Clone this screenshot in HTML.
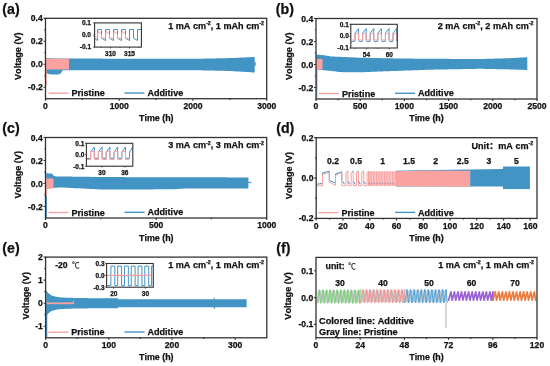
<!DOCTYPE html>
<html><head><meta charset="utf-8"><style>
html,body{margin:0;padding:0;background:#fff;}
svg{display:block;}
text{font-family:"Liberation Sans",Arial,"Noto Sans CJK SC",sans-serif;fill:#111111;stroke:#111111;stroke-width:0.25px;font-kerning:none;}
</style></head><body>
<svg width="550" height="366" viewBox="0 0 550 366">
<rect width="550" height="366" fill="#fff"/>
<text x="2.30" y="13.90" font-size="14.2" text-anchor="start" font-weight="bold" >(a)</text>
<path d="M45.80 57.80 L47.30 58.14 L48.80 58.31 L50.30 58.33 L51.80 58.35 L53.30 58.37 L54.80 58.39 L56.30 58.41 L57.80 58.43 L59.30 58.45 L60.80 58.47 L62.30 58.49 L63.80 58.52 L65.30 58.54 L66.80 58.56 L68.30 58.58 L69.80 58.60 L71.30 58.60 L72.80 58.60 L74.30 58.60 L75.80 58.60 L77.30 58.61 L78.80 58.61 L80.30 58.61 L81.80 58.61 L83.30 58.61 L84.80 58.61 L86.30 58.61 L87.80 58.61 L89.30 58.61 L90.80 58.62 L92.30 58.62 L93.80 58.62 L95.30 58.62 L96.80 58.62 L98.30 58.62 L99.80 58.62 L101.30 58.62 L102.80 58.63 L104.30 58.63 L105.80 58.63 L107.30 58.63 L108.80 58.63 L110.30 58.63 L111.80 58.63 L113.30 58.63 L114.80 58.63 L116.30 58.64 L117.80 58.64 L119.30 58.64 L120.80 58.64 L122.30 58.64 L123.80 58.64 L125.30 58.64 L126.80 58.64 L128.30 58.64 L129.80 58.65 L131.30 58.65 L132.80 58.65 L134.30 58.65 L135.80 58.65 L137.30 58.65 L138.80 58.65 L140.30 58.65 L141.80 58.66 L143.30 58.66 L144.80 58.66 L146.30 58.66 L147.80 58.66 L149.30 58.66 L150.80 58.66 L152.30 58.66 L153.80 58.66 L155.30 58.67 L156.80 58.67 L158.30 58.67 L159.80 58.67 L161.30 58.67 L162.80 58.67 L164.30 58.67 L165.80 58.67 L167.30 58.67 L168.80 58.68 L170.30 58.68 L171.80 58.68 L173.30 58.68 L174.80 58.68 L176.30 58.68 L177.80 58.68 L179.30 58.68 L180.80 58.69 L182.30 58.69 L183.80 58.69 L185.30 58.69 L186.80 58.69 L188.30 58.69 L189.80 58.69 L191.30 58.69 L192.80 58.69 L194.30 58.70 L195.80 58.70 L197.30 58.70 L198.80 58.70 L200.30 58.69 L201.80 58.66 L203.30 58.63 L204.80 58.60 L206.30 58.57 L207.80 58.54 L209.30 58.51 L210.80 58.48 L212.30 58.45 L213.80 58.42 L215.30 58.39 L216.80 58.36 L218.30 58.33 L219.80 58.30 L221.30 58.27 L222.80 58.24 L224.30 58.21 L225.80 58.18 L227.30 58.15 L228.80 58.12 L230.30 58.09 L231.80 58.02 L233.30 57.95 L234.80 57.89 L236.30 57.82 L237.80 57.75 L239.30 57.69 L240.80 57.62 L242.30 57.55 L243.80 57.49 L245.30 57.42 L246.80 57.35 L248.30 57.29 L249.80 57.22 L251.30 57.15 L252.80 57.08 L254.30 57.02 L254.70 57.00 L254.70 72.50 L254.30 72.48 L252.80 72.38 L251.30 72.29 L249.80 72.20 L248.30 72.11 L246.80 72.02 L245.30 71.93 L243.80 71.84 L242.30 71.75 L240.80 71.66 L239.30 71.56 L237.80 71.47 L236.30 71.38 L234.80 71.29 L233.30 71.20 L231.80 71.11 L230.30 71.02 L228.80 70.97 L227.30 70.94 L225.80 70.90 L224.30 70.87 L222.80 70.83 L221.30 70.80 L219.80 70.76 L218.30 70.73 L216.80 70.69 L215.30 70.66 L213.80 70.62 L212.30 70.59 L210.80 70.55 L209.30 70.52 L207.80 70.48 L206.30 70.45 L204.80 70.41 L203.30 70.38 L201.80 70.34 L200.30 70.31 L198.80 70.30 L197.30 70.30 L195.80 70.30 L194.30 70.30 L192.80 70.30 L191.30 70.30 L189.80 70.30 L188.30 70.30 L186.80 70.30 L185.30 70.30 L183.80 70.30 L182.30 70.30 L180.80 70.30 L179.30 70.30 L177.80 70.30 L176.30 70.30 L174.80 70.30 L173.30 70.30 L171.80 70.30 L170.30 70.30 L168.80 70.30 L167.30 70.30 L165.80 70.30 L164.30 70.30 L162.80 70.30 L161.30 70.30 L159.80 70.30 L158.30 70.30 L156.80 70.30 L155.30 70.30 L153.80 70.30 L152.30 70.30 L150.80 70.30 L149.30 70.30 L147.80 70.30 L146.30 70.30 L144.80 70.30 L143.30 70.30 L141.80 70.30 L140.30 70.30 L138.80 70.30 L137.30 70.30 L135.80 70.30 L134.30 70.30 L132.80 70.30 L131.30 70.30 L129.80 70.30 L128.30 70.30 L126.80 70.30 L125.30 70.30 L123.80 70.30 L122.30 70.30 L120.80 70.30 L119.30 70.30 L117.80 70.30 L116.30 70.30 L114.80 70.30 L113.30 70.30 L111.80 70.30 L110.30 70.30 L108.80 70.30 L107.30 70.30 L105.80 70.30 L104.30 70.30 L102.80 70.30 L101.30 70.30 L99.80 70.30 L98.30 70.30 L96.80 70.30 L95.30 70.30 L93.80 70.30 L92.30 70.30 L90.80 70.30 L89.30 70.30 L87.80 70.30 L86.30 70.30 L84.80 70.30 L83.30 70.30 L81.80 70.30 L80.30 70.30 L78.80 70.30 L77.30 70.30 L75.80 70.30 L74.30 70.30 L72.80 70.30 L71.30 70.30 L69.80 70.30 L68.30 70.30 L66.80 70.30 L65.30 70.30 L63.80 70.30 L62.30 70.30 L60.80 70.30 L59.30 70.30 L57.80 70.30 L56.30 70.30 L54.80 70.30 L53.30 70.30 L51.80 70.30 L50.30 70.30 L48.80 70.30 L47.30 70.30 L45.80 70.30Z" fill="#4294c4" />
<path d="M46.00 68.00 L46.20 73.00 L48.00 74.00 L52.00 74.50 L58.00 74.50 L60.00 74.00 L61.30 72.50 L62.50 70.40 L62.50 68.00Z" fill="#4294c4" />
<rect x="46" y="58.6" width="23" height="10.9" fill="#faa2a0"/>
<path d="M46.3 58 V86" stroke="#faa2a0" stroke-width="0.9"/>
<path d="M254.5 62 h1.2 v4 h-1.2z" fill="#4294c4"/>
<rect x="45.50" y="18.30" width="221.20" height="80.40" fill="none" stroke="#333333" stroke-width="1.3"/>
<path d="M45.50 98.70v2.0M119.23 98.70v2.0M192.97 98.70v2.0M266.70 98.70v2.0M82.37 98.70v1.2M156.10 98.70v1.2M229.83 98.70v1.2M45.50 18.30h-2.0M45.50 41.27h-2.0M45.50 64.24h-2.0M45.50 87.21h-2.0M45.50 29.79h-1.2M45.50 52.76h-1.2M45.50 75.73h-1.2" stroke="#333333" stroke-width="1.1700000000000002" fill="none"/>
<text x="45.50" y="108.80" font-size="8.6" text-anchor="middle" font-weight="bold" >0</text>
<text x="119.23" y="108.80" font-size="8.6" text-anchor="middle" font-weight="bold" >1000</text>
<text x="192.97" y="108.80" font-size="8.6" text-anchor="middle" font-weight="bold" >2000</text>
<text x="266.70" y="108.80" font-size="8.6" text-anchor="middle" font-weight="bold" >3000</text>
<text x="42.80" y="21.30" font-size="8.6" text-anchor="end" font-weight="bold" >0.4</text>
<text x="42.80" y="44.27" font-size="8.6" text-anchor="end" font-weight="bold" >0.2</text>
<text x="42.80" y="67.24" font-size="8.6" text-anchor="end" font-weight="bold" >0.0</text>
<text x="42.80" y="90.21" font-size="8.6" text-anchor="end" font-weight="bold" >-0.2</text>
<text transform="translate(21.10,56.20) rotate(-90)" font-size="9.1" text-anchor="middle" font-weight="bold">Voltage (V)</text>
<text x="156.30" y="121.20" font-size="8.9" text-anchor="middle" font-weight="bold" >Time (h)</text>
<text x="264.00" y="29.00" font-size="9.1" text-anchor="end" font-weight="bold" >1 mA cm<tspan font-size="5.3" dy="-3.7">-2</tspan><tspan dy="3.7">, 1 mAh cm</tspan><tspan font-size="5.3" dy="-3.7">-2</tspan><tspan dy="3.7"></tspan></text>
<path d="M48.50 93.20h20" stroke="#faa2a0" stroke-width="1.4"/>
<text x="71.50" y="96.30" font-size="9.05" text-anchor="start" font-weight="bold" >Pristine</text>
<path d="M124.50 93.00h20" stroke="#4294c4" stroke-width="1.4"/>
<text x="147.50" y="96.10" font-size="9.05" text-anchor="start" font-weight="bold" >Additive</text>
<path d="M94.90 38.60 L97.49 40.50 L97.50 40.50 L97.50 29.50 L101.50 29.50 L101.50 38.20 L105.50 40.50 L105.50 40.50 L105.50 29.50 L109.50 29.50 L109.50 38.20 L113.50 40.50 L113.50 40.50 L113.50 29.50 L117.50 29.50 L117.50 38.20 L121.50 40.50 L121.50 40.50 L121.50 29.50 L125.50 29.50 L125.50 38.20 L129.50 40.50 L129.50 40.50 L129.50 29.50 L133.50 29.50 L133.50 38.20 L137.50 40.50 L137.50 40.50 L137.50 29.50 L141.20 29.50" fill="none" stroke="#4294c4" stroke-width="1.0" stroke-linejoin="miter" />
<path d="M94.90 36.00 L97.49 38.00 L97.50 38.00 L98.10 31.00 L101.50 34.50 L101.50 38.00 L105.50 38.00 L105.50 38.00 L106.10 31.00 L109.50 34.50 L109.50 38.00 L113.50 38.00 L113.50 38.00 L114.10 31.00 L117.50 34.50 L117.50 38.00 L121.50 38.00 L121.50 38.00 L122.10 31.00 L125.50 34.50 L125.50 38.00 L128.50 38.00" fill="none" stroke="#faa2a0" stroke-width="1.0" stroke-linejoin="miter" />
<rect x="94.60" y="22.90" width="46.80" height="24.20" fill="none" stroke="#333333" stroke-width="1.1"/>
<path d="M110.54 47.10v1.3M129.52 47.10v1.3M101.05 47.10v0.78M120.03 47.10v0.78M139.01 47.10v0.78M94.60 22.90h-1.3M94.60 35.00h-1.3M94.60 47.10h-1.3" stroke="#333333" stroke-width="0.9900000000000001" fill="none"/>
<text x="110.54" y="55.50" font-size="6.5" text-anchor="middle" font-weight="bold" >310</text>
<text x="129.52" y="55.50" font-size="6.5" text-anchor="middle" font-weight="bold" >315</text>
<text x="91.00" y="24.80" font-size="6.5" text-anchor="end" font-weight="bold" >0.1</text>
<text x="91.00" y="36.90" font-size="6.5" text-anchor="end" font-weight="bold" >0.0</text>
<text x="91.00" y="49.00" font-size="6.5" text-anchor="end" font-weight="bold" >-0.1</text>
<text x="275.80" y="13.90" font-size="14.2" text-anchor="start" font-weight="bold" >(b)</text>
<path d="M316.30 54.50 L317.80 54.63 L319.30 54.76 L320.80 54.89 L322.30 55.05 L323.80 55.32 L325.30 55.58 L326.80 55.84 L328.30 56.10 L329.80 56.37 L331.30 56.46 L332.80 56.52 L334.30 56.59 L335.80 56.65 L337.30 56.72 L338.80 56.78 L340.30 56.85 L341.80 56.91 L343.30 56.98 L344.80 57.04 L346.30 57.11 L347.80 57.17 L349.30 57.24 L350.80 57.30 L352.30 57.37 L353.80 57.43 L355.30 57.50 L356.80 57.56 L358.30 57.63 L359.80 57.69 L361.30 57.73 L362.80 57.76 L364.30 57.79 L365.80 57.82 L367.30 57.85 L368.80 57.88 L370.30 57.91 L371.80 57.94 L373.30 57.97 L374.80 58.00 L376.30 58.03 L377.80 58.06 L379.30 58.09 L380.80 58.12 L382.30 58.15 L383.80 58.18 L385.30 58.21 L386.80 58.24 L388.30 58.27 L389.80 58.30 L391.30 58.33 L392.80 58.36 L394.30 58.39 L395.80 58.42 L397.30 58.45 L398.80 58.48 L400.30 58.50 L401.80 58.52 L403.30 58.53 L404.80 58.55 L406.30 58.56 L407.80 58.58 L409.30 58.59 L410.80 58.61 L412.30 58.62 L413.80 58.64 L415.30 58.65 L416.80 58.67 L418.30 58.68 L419.80 58.70 L421.30 58.71 L422.80 58.73 L424.30 58.74 L425.80 58.76 L427.30 58.77 L428.80 58.79 L430.30 58.80 L431.80 58.81 L433.30 58.81 L434.80 58.82 L436.30 58.83 L437.80 58.83 L439.30 58.84 L440.80 58.84 L442.30 58.85 L443.80 58.86 L445.30 58.86 L446.80 58.87 L448.30 58.87 L449.80 58.88 L451.30 58.89 L452.80 58.89 L454.30 58.90 L455.80 58.90 L457.30 58.91 L458.80 58.92 L460.30 58.92 L461.80 58.93 L463.30 58.93 L464.80 58.94 L466.30 58.95 L467.80 58.95 L469.30 58.96 L470.80 58.96 L472.30 58.97 L473.80 58.98 L475.30 58.98 L476.80 58.99 L478.30 58.99 L479.80 59.00 L481.30 58.97 L482.80 58.93 L484.30 58.89 L485.80 58.85 L487.30 58.81 L488.80 58.77 L490.30 58.73 L491.80 58.69 L493.30 58.65 L494.80 58.61 L496.30 58.57 L497.80 58.53 L499.30 58.49 L500.80 58.45 L502.30 58.41 L503.80 58.37 L505.30 58.33 L506.80 58.29 L508.30 58.25 L509.80 58.21 L511.30 58.12 L512.80 58.04 L514.30 57.95 L515.80 57.86 L517.30 57.78 L518.80 57.69 L520.30 57.60 L521.80 57.52 L523.30 57.43 L524.80 57.34 L526.30 57.26 L527.30 57.20 L527.30 70.00 L526.30 69.97 L524.80 69.91 L523.30 69.86 L521.80 69.81 L520.30 69.76 L518.80 69.71 L517.30 69.65 L515.80 69.60 L514.30 69.55 L512.80 69.50 L511.30 69.45 L509.80 69.40 L508.30 69.37 L506.80 69.34 L505.30 69.31 L503.80 69.28 L502.30 69.25 L500.80 69.22 L499.30 69.19 L497.80 69.16 L496.30 69.13 L494.80 69.10 L493.30 69.07 L491.80 69.04 L490.30 69.01 L488.80 68.98 L487.30 68.95 L485.80 68.92 L484.30 68.89 L482.80 68.86 L481.30 68.83 L479.80 68.80 L478.30 68.83 L476.80 68.86 L475.30 68.88 L473.80 68.91 L472.30 68.94 L470.80 68.97 L469.30 68.99 L467.80 69.02 L466.30 69.05 L464.80 69.07 L463.30 69.10 L461.80 69.13 L460.30 69.15 L458.80 69.18 L457.30 69.21 L455.80 69.24 L454.30 69.26 L452.80 69.29 L451.30 69.32 L449.80 69.34 L448.30 69.37 L446.80 69.40 L445.30 69.42 L443.80 69.45 L442.30 69.48 L440.80 69.51 L439.30 69.53 L437.80 69.56 L436.30 69.59 L434.80 69.61 L433.30 69.64 L431.80 69.67 L430.30 69.69 L428.80 69.74 L427.30 69.80 L425.80 69.85 L424.30 69.91 L422.80 69.96 L421.30 70.02 L419.80 70.07 L418.30 70.13 L416.80 70.18 L415.30 70.24 L413.80 70.29 L412.30 70.35 L410.80 70.40 L409.30 70.46 L407.80 70.51 L406.30 70.57 L404.80 70.62 L403.30 70.68 L401.80 70.73 L400.30 70.79 L398.80 70.84 L397.30 70.89 L395.80 70.95 L394.30 71.00 L392.80 71.05 L391.30 71.10 L389.80 71.16 L388.30 71.21 L386.80 71.26 L385.30 71.31 L383.80 71.37 L382.30 71.42 L380.80 71.47 L379.30 71.53 L377.80 71.59 L376.30 71.65 L374.80 71.71 L373.30 71.77 L371.80 71.83 L370.30 71.89 L368.80 71.95 L367.30 72.01 L365.80 72.07 L364.30 72.13 L362.80 72.19 L361.30 72.25 L359.80 72.30 L358.30 72.28 L356.80 72.27 L355.30 72.25 L353.80 72.24 L352.30 72.22 L350.80 72.21 L349.30 72.19 L347.80 72.18 L346.30 72.16 L344.80 72.15 L343.30 72.13 L341.80 72.12 L340.30 72.10 L338.80 71.94 L337.30 71.75 L335.80 71.55 L334.30 71.36 L332.80 71.16 L331.30 70.97 L329.80 70.78 L328.30 70.63 L326.80 70.48 L325.30 70.33 L323.80 70.18 L322.30 70.03 L320.80 69.89 L319.30 69.76 L317.80 69.63 L316.30 69.50Z" fill="#4294c4" />
<rect x="316.5" y="59" width="6" height="10.5" fill="#faa2a0"/>
<path d="M316.7 60 V90" stroke="#faa2a0" stroke-width="0.9"/>
<path d="M316.8 70 V99" stroke="#4294c4" stroke-width="0.9"/>
<rect x="316.00" y="18.50" width="221.00" height="80.50" fill="none" stroke="#333333" stroke-width="1.3"/>
<path d="M316.00 99.00v2.0M360.20 99.00v2.0M404.40 99.00v2.0M448.60 99.00v2.0M492.80 99.00v2.0M537.00 99.00v2.0M338.10 99.00v1.2M382.30 99.00v1.2M426.50 99.00v1.2M470.70 99.00v1.2M514.90 99.00v1.2M316.00 18.50h-2.0M316.00 41.50h-2.0M316.00 64.50h-2.0M316.00 87.50h-2.0M316.00 30.00h-1.2M316.00 53.00h-1.2M316.00 76.00h-1.2" stroke="#333333" stroke-width="1.1700000000000002" fill="none"/>
<text x="316.00" y="109.10" font-size="8.6" text-anchor="middle" font-weight="bold" >0</text>
<text x="360.20" y="109.10" font-size="8.6" text-anchor="middle" font-weight="bold" >500</text>
<text x="404.40" y="109.10" font-size="8.6" text-anchor="middle" font-weight="bold" >1000</text>
<text x="448.60" y="109.10" font-size="8.6" text-anchor="middle" font-weight="bold" >1500</text>
<text x="492.80" y="109.10" font-size="8.6" text-anchor="middle" font-weight="bold" >2000</text>
<text x="537.00" y="109.10" font-size="8.6" text-anchor="middle" font-weight="bold" >2500</text>
<text x="313.30" y="21.50" font-size="8.6" text-anchor="end" font-weight="bold" >0.4</text>
<text x="313.30" y="44.50" font-size="8.6" text-anchor="end" font-weight="bold" >0.2</text>
<text x="313.30" y="67.50" font-size="8.6" text-anchor="end" font-weight="bold" >0.0</text>
<text x="313.30" y="90.50" font-size="8.6" text-anchor="end" font-weight="bold" >-0.2</text>
<text transform="translate(291.60,56.20) rotate(-90)" font-size="9.1" text-anchor="middle" font-weight="bold">Voltage (V)</text>
<text x="426.50" y="121.20" font-size="8.9" text-anchor="middle" font-weight="bold" >Time (h)</text>
<text x="533.50" y="29.00" font-size="9.1" text-anchor="end" font-weight="bold" >2 mA cm<tspan font-size="5.3" dy="-3.7">-2</tspan><tspan dy="3.7">, 2 mAh cm</tspan><tspan font-size="5.3" dy="-3.7">-2</tspan><tspan dy="3.7"></tspan></text>
<path d="M319.00 93.50h20" stroke="#faa2a0" stroke-width="1.4"/>
<text x="342.00" y="96.60" font-size="9.05" text-anchor="start" font-weight="bold" >Pristine</text>
<path d="M395.00 93.30h20" stroke="#4294c4" stroke-width="1.4"/>
<text x="418.00" y="96.40" font-size="9.05" text-anchor="start" font-weight="bold" >Additive</text>
<path d="M351.10 42.50 L352.50 41.50 L355.00 41.20 L355.00 33.20 L358.60 28.50 L358.60 40.50 L359.60 41.80 L362.60 41.20 L362.60 41.20 L362.60 33.20 L366.20 28.50 L366.20 40.50 L367.20 41.80 L370.20 41.20 L370.20 41.20 L370.20 33.20 L373.80 28.50 L373.80 40.50 L374.80 41.80 L377.80 41.20 L377.80 41.20 L377.80 33.20 L381.40 28.50 L381.40 40.50 L382.40 41.80 L385.40 41.20 L385.40 41.20 L385.40 33.20 L389.00 28.50 L389.00 40.50 L390.00 41.80 L393.00 41.20 L393.00 41.20 L393.00 33.20 L396.60 28.50 L396.60 40.50 L397.60 41.80 L397.10 41.20" fill="none" stroke="#4294c4" stroke-width="1.0" stroke-linejoin="miter" />
<path d="M351.10 40.00 L355.00 40.00 L355.00 33.60 L358.60 33.60 L358.60 40.00 L362.60 40.00 L362.60 40.00 L362.60 33.60 L366.20 33.60 L366.20 40.00 L370.20 40.00 L370.20 40.00 L370.20 33.60 L373.80 33.60 L373.80 40.00 L377.80 40.00 L377.80 40.00 L377.80 33.60 L381.40 33.60 L381.40 40.00 L385.40 40.00 L385.40 40.00 L385.40 33.60 L389.00 33.60 L389.00 40.00 L393.00 40.00 L393.00 40.00 L393.00 33.60 L396.60 33.60 L396.60 40.00 L397.10 40.00" fill="none" stroke="#faa2a0" stroke-width="1.0" stroke-linejoin="miter" />
<rect x="350.80" y="24.30" width="46.50" height="23.70" fill="none" stroke="#333333" stroke-width="1.1"/>
<path d="M366.43 48.00v1.3M389.30 48.00v1.3M354.99 48.00v0.78M377.86 48.00v0.78M350.80 24.30h-1.3M350.80 36.15h-1.3M350.80 48.00h-1.3" stroke="#333333" stroke-width="0.9900000000000001" fill="none"/>
<text x="366.43" y="56.60" font-size="6.5" text-anchor="middle" font-weight="bold" >54</text>
<text x="389.30" y="56.60" font-size="6.5" text-anchor="middle" font-weight="bold" >60</text>
<text x="348.80" y="26.60" font-size="6.5" text-anchor="end" font-weight="bold" >0.1</text>
<text x="348.80" y="38.45" font-size="6.5" text-anchor="end" font-weight="bold" >0.0</text>
<text x="348.80" y="50.30" font-size="6.5" text-anchor="end" font-weight="bold" >-0.1</text>
<text x="2.30" y="133.20" font-size="14.2" text-anchor="start" font-weight="bold" >(c)</text>
<path d="M46.20 173.00 L47.70 173.19 L49.20 173.38 L50.70 173.57 L52.20 173.76 L53.70 175.85 L55.20 176.21 L56.70 176.41 L58.20 176.43 L59.70 176.45 L61.20 176.47 L62.70 176.49 L64.20 176.51 L65.70 176.53 L67.20 176.55 L68.70 176.57 L70.20 176.59 L71.70 176.61 L73.20 176.63 L74.70 176.66 L76.20 176.68 L77.70 176.70 L79.20 176.72 L80.70 176.74 L82.20 176.76 L83.70 176.78 L85.20 176.80 L86.70 176.82 L88.20 176.84 L89.70 176.86 L91.20 176.88 L92.70 176.90 L94.20 176.92 L95.70 176.94 L97.20 176.96 L98.70 176.98 L100.20 177.00 L101.70 177.01 L103.20 177.02 L104.70 177.02 L106.20 177.03 L107.70 177.04 L109.20 177.05 L110.70 177.05 L112.20 177.06 L113.70 177.07 L115.20 177.08 L116.70 177.08 L118.20 177.09 L119.70 177.10 L121.20 177.11 L122.70 177.11 L124.20 177.12 L125.70 177.13 L127.20 177.14 L128.70 177.14 L130.20 177.15 L131.70 177.16 L133.20 177.17 L134.70 177.17 L136.20 177.18 L137.70 177.19 L139.20 177.20 L140.70 177.20 L142.20 177.21 L143.70 177.22 L145.20 177.23 L146.70 177.23 L148.20 177.24 L149.70 177.25 L151.20 177.26 L152.70 177.26 L154.20 177.27 L155.70 177.28 L157.20 177.29 L158.70 177.29 L160.20 177.30 L161.70 177.30 L163.20 177.30 L164.70 177.31 L166.20 177.31 L167.70 177.31 L169.20 177.31 L170.70 177.31 L172.20 177.31 L173.70 177.32 L175.20 177.32 L176.70 177.32 L178.20 177.32 L179.70 177.32 L181.20 177.32 L182.70 177.33 L184.20 177.33 L185.70 177.33 L187.20 177.33 L188.70 177.33 L190.20 177.33 L191.70 177.34 L193.20 177.34 L194.70 177.34 L196.20 177.34 L197.70 177.34 L199.20 177.34 L200.70 177.35 L202.20 177.35 L203.70 177.35 L205.20 177.35 L206.70 177.35 L208.20 177.35 L209.70 177.36 L211.20 177.36 L212.70 177.36 L214.20 177.36 L215.70 177.36 L217.20 177.36 L218.70 177.37 L220.20 177.37 L221.70 177.37 L223.20 177.37 L224.70 177.37 L226.20 177.37 L227.70 177.38 L229.20 177.38 L230.70 177.38 L232.20 177.38 L233.70 177.38 L235.20 177.39 L236.70 177.39 L238.20 177.39 L239.70 177.39 L241.20 177.39 L242.70 177.39 L244.20 177.40 L245.70 177.40 L247.20 177.40 L248.40 177.40 L248.40 188.40 L247.20 188.40 L245.70 188.40 L244.20 188.41 L242.70 188.41 L241.20 188.41 L239.70 188.41 L238.20 188.42 L236.70 188.42 L235.20 188.42 L233.70 188.42 L232.20 188.43 L230.70 188.43 L229.20 188.43 L227.70 188.43 L226.20 188.44 L224.70 188.44 L223.20 188.44 L221.70 188.44 L220.20 188.44 L218.70 188.45 L217.20 188.45 L215.70 188.45 L214.20 188.45 L212.70 188.46 L211.20 188.46 L209.70 188.46 L208.20 188.46 L206.70 188.47 L205.20 188.47 L203.70 188.47 L202.20 188.47 L200.70 188.48 L199.20 188.48 L197.70 188.48 L196.20 188.48 L194.70 188.48 L193.20 188.49 L191.70 188.49 L190.20 188.49 L188.70 188.49 L187.20 188.50 L185.70 188.50 L184.20 188.56 L182.70 188.66 L181.20 188.77 L179.70 188.87 L178.20 188.98 L176.70 189.08 L175.20 189.19 L173.70 189.21 L172.20 189.22 L170.70 189.23 L169.20 189.25 L167.70 189.26 L166.20 189.27 L164.70 189.28 L163.20 189.29 L161.70 189.31 L160.20 189.32 L158.70 189.33 L157.20 189.34 L155.70 189.35 L154.20 189.37 L152.70 189.38 L151.20 189.39 L149.70 189.40 L148.20 189.40 L146.70 189.40 L145.20 189.40 L143.70 189.40 L142.20 189.40 L140.70 189.40 L139.20 189.40 L137.70 189.40 L136.20 189.40 L134.70 189.40 L133.20 189.40 L131.70 189.40 L130.20 189.40 L128.70 189.40 L127.20 189.40 L125.70 189.40 L124.20 189.40 L122.70 189.40 L121.20 189.40 L119.70 189.40 L118.20 189.40 L116.70 189.40 L115.20 189.40 L113.70 189.40 L112.20 189.40 L110.70 189.40 L109.20 189.40 L107.70 189.40 L106.20 189.40 L104.70 189.40 L103.20 189.40 L101.70 189.40 L100.20 189.40 L98.70 189.34 L97.20 189.26 L95.70 189.19 L94.20 189.11 L92.70 189.03 L91.20 188.96 L89.70 188.89 L88.20 188.81 L86.70 188.74 L85.20 188.66 L83.70 188.59 L82.20 188.51 L80.70 188.44 L79.20 188.36 L77.70 188.28 L76.20 188.21 L74.70 188.14 L73.20 188.06 L71.70 187.99 L70.20 187.91 L68.70 187.84 L67.20 187.76 L65.70 187.69 L64.20 187.61 L62.70 187.53 L61.20 187.46 L59.70 187.42 L58.20 187.54 L56.70 187.66 L55.20 187.78 L53.70 187.90 L52.20 188.02 L50.70 188.14 L49.20 188.26 L47.70 188.38 L46.20 188.50Z" fill="#4294c4" />
<path d="M247 182.5 h4.2" stroke="#4294c4" stroke-width="1.2"/>
<path d="M46.50 178.80 L52.50 178.30 L53.50 180.00 L53.50 188.50 L46.50 188.80Z" fill="#faa2a0" />
<path d="M46.4 178 V201" stroke="#faa2a0" stroke-width="1.0"/>
<path d="M46.5 196 V218" stroke="#4294c4" stroke-width="0.9"/>
<rect x="45.50" y="137.50" width="221.20" height="80.50" fill="none" stroke="#333333" stroke-width="1.3"/>
<path d="M45.50 218.00v2.0M156.10 218.00v2.0M266.70 218.00v2.0M100.80 218.00v1.2M211.40 218.00v1.2M45.50 137.50h-2.0M45.50 160.50h-2.0M45.50 183.50h-2.0M45.50 206.50h-2.0M45.50 149.00h-1.2M45.50 172.00h-1.2M45.50 195.00h-1.2" stroke="#333333" stroke-width="1.1700000000000002" fill="none"/>
<text x="45.50" y="228.10" font-size="8.6" text-anchor="middle" font-weight="bold" >0</text>
<text x="156.10" y="228.10" font-size="8.6" text-anchor="middle" font-weight="bold" >500</text>
<text x="266.70" y="228.10" font-size="8.6" text-anchor="middle" font-weight="bold" >1000</text>
<text x="42.80" y="140.50" font-size="8.6" text-anchor="end" font-weight="bold" >0.4</text>
<text x="42.80" y="163.50" font-size="8.6" text-anchor="end" font-weight="bold" >0.2</text>
<text x="42.80" y="186.50" font-size="8.6" text-anchor="end" font-weight="bold" >0.0</text>
<text x="42.80" y="209.50" font-size="8.6" text-anchor="end" font-weight="bold" >-0.2</text>
<text transform="translate(21.10,174.80) rotate(-90)" font-size="9.1" text-anchor="middle" font-weight="bold">Voltage (V)</text>
<text x="156.30" y="240.50" font-size="8.9" text-anchor="middle" font-weight="bold" >Time (h)</text>
<text x="264.00" y="148.30" font-size="9.1" text-anchor="end" font-weight="bold" >3 mA cm<tspan font-size="5.3" dy="-3.7">-2</tspan><tspan dy="3.7">, 3 mAh cm</tspan><tspan font-size="5.3" dy="-3.7">-2</tspan><tspan dy="3.7"></tspan></text>
<path d="M48.50 212.50h20" stroke="#faa2a0" stroke-width="1.4"/>
<text x="71.50" y="215.60" font-size="9.05" text-anchor="start" font-weight="bold" >Pristine</text>
<path d="M124.50 212.30h20" stroke="#4294c4" stroke-width="1.4"/>
<text x="147.50" y="215.40" font-size="9.05" text-anchor="start" font-weight="bold" >Additive</text>
<path d="M86.80 158.50 L90.60 158.50 L90.60 152.00 L94.30 147.00 L94.30 158.00 L98.40 158.50 L98.40 158.50 L98.40 152.00 L102.10 147.00 L102.10 158.00 L106.20 158.50 L106.20 158.50 L106.20 152.00 L109.90 147.00 L109.90 158.00 L114.00 158.50 L114.00 158.50 L114.00 152.00 L117.70 147.00 L117.70 158.00 L121.80 158.50 L121.80 158.50 L121.80 152.00 L125.50 147.00 L125.50 158.00 L129.60 158.50 L129.60 158.50 L129.60 152.00 L132.80 147.00" fill="none" stroke="#4294c4" stroke-width="1.0" stroke-linejoin="miter" />
<path d="M86.80 159.50 L90.60 159.50 L90.60 151.50 L94.30 151.50 L94.30 159.50 L98.40 159.50 L98.40 159.50 L98.40 151.50 L102.10 151.50 L102.10 159.50 L106.20 159.50 L106.20 159.50 L106.20 151.50 L109.90 151.50 L109.90 159.50 L114.00 159.50 L114.00 159.50 L114.00 151.50 L117.70 151.50 L117.70 159.50 L121.80 159.50 L121.80 159.50 L121.80 151.50 L125.50 151.50 L125.50 159.50 L129.00 159.50" fill="none" stroke="#faa2a0" stroke-width="1.0" stroke-linejoin="miter" />
<rect x="86.40" y="143.30" width="46.40" height="22.90" fill="none" stroke="#333333" stroke-width="1.1"/>
<path d="M101.99 166.20v1.3M124.81 166.20v1.3M90.58 166.20v0.78M113.40 166.20v0.78M86.40 143.30h-1.3M86.40 154.75h-1.3M86.40 166.20h-1.3" stroke="#333333" stroke-width="0.9900000000000001" fill="none"/>
<text x="101.99" y="174.80" font-size="6.5" text-anchor="middle" font-weight="bold" >30</text>
<text x="124.81" y="174.80" font-size="6.5" text-anchor="middle" font-weight="bold" >36</text>
<text x="84.40" y="145.60" font-size="6.5" text-anchor="end" font-weight="bold" >0.1</text>
<text x="84.40" y="157.05" font-size="6.5" text-anchor="end" font-weight="bold" >0.0</text>
<text x="84.40" y="168.50" font-size="6.5" text-anchor="end" font-weight="bold" >-0.1</text>
<text x="276.20" y="133.30" font-size="14.2" text-anchor="start" font-weight="bold" >(d)</text>
<path d="M316.70 184.20 L322.50 183.50 L322.50 173.00 L329.30 171.20 L329.30 180.50 L335.50 183.00 L335.50 174.00 L341.80 171.80 L341.80 181.00" fill="none" stroke="#4294c4" stroke-width="1.0" stroke-linejoin="miter" />
<path d="M316.70 186.00 L322.50 185.50 L322.50 174.50 L329.30 172.30 L329.30 182.00 L335.50 185.50 L335.50 175.50 L341.80 172.50 L341.80 185.50" fill="none" stroke="#faa2a0" stroke-width="1.0" stroke-linejoin="miter" />
<path d="M341.80 185.50 L342.60 185.50 L342.60 185.50 L345.90 185.80 L345.90 172.60 L347.90 171.60 L347.90 185.50 L347.90 185.50 L347.90 185.50 L351.20 185.80 L351.20 172.60 L353.20 171.60 L353.20 185.50 L353.20 185.50 L353.20 185.50 L356.50 185.80 L356.50 172.60 L358.50 171.60 L358.50 185.50 L358.50 185.50 L358.50 185.50 L361.80 185.80 L361.80 172.60 L363.80 171.60 L363.80 185.50 L363.80 185.50 L363.80 185.50 L367.10 185.80 L367.10 172.60 L369.10 171.60 L369.10 185.50" fill="none" stroke="#faa2a0" stroke-width="1.0" stroke-linejoin="miter" />
<path d="M342.90 181.50 L344.40 184.20" fill="none" stroke="#4294c4" stroke-width="1.0" stroke-linejoin="miter" />
<path d="M348.20 181.50 L349.70 184.20" fill="none" stroke="#4294c4" stroke-width="1.0" stroke-linejoin="miter" />
<path d="M353.50 181.50 L355.00 184.20" fill="none" stroke="#4294c4" stroke-width="1.0" stroke-linejoin="miter" />
<path d="M358.80 181.50 L360.30 184.20" fill="none" stroke="#4294c4" stroke-width="1.0" stroke-linejoin="miter" />
<path d="M364.10 181.50 L365.60 184.20" fill="none" stroke="#4294c4" stroke-width="1.0" stroke-linejoin="miter" />
<path d="M346.90 171.60 L347.80 171.10" fill="none" stroke="#4294c4" stroke-width="1.0" stroke-linejoin="miter" />
<path d="M352.20 171.60 L353.10 171.10" fill="none" stroke="#4294c4" stroke-width="1.0" stroke-linejoin="miter" />
<path d="M357.50 171.60 L358.40 171.10" fill="none" stroke="#4294c4" stroke-width="1.0" stroke-linejoin="miter" />
<path d="M362.80 171.60 L363.70 171.10" fill="none" stroke="#4294c4" stroke-width="1.0" stroke-linejoin="miter" />
<path d="M368.10 171.60 L369.00 171.10" fill="none" stroke="#4294c4" stroke-width="1.0" stroke-linejoin="miter" />
<rect x="368.5" y="171.3" width="27.5" height="14.8" fill="#faa2a0" fill-opacity="0.6"/>
<path d="M368.50 171.3V186.1M371.17 171.3V186.1M373.84 171.3V186.1M376.51 171.3V186.1M379.18 171.3V186.1M381.85 171.3V186.1M384.52 171.3V186.1M387.19 171.3V186.1M389.86 171.3V186.1M392.53 171.3V186.1M395.20 171.3V186.1" stroke="#faa2a0" stroke-width="1.1"/>
<path d="M369.50 182.5v1.8M372.17 182.5v1.8M374.84 182.5v1.8M377.51 182.5v1.8M380.18 182.5v1.8M382.85 182.5v1.8M385.52 182.5v1.8M388.19 182.5v1.8M390.86 182.5v1.8M393.53 182.5v1.8" stroke="#5a7fb0" stroke-width="0.8" stroke-opacity="0.8"/>
<path d="M396.00 170.80 L430.00 170.00 L470.20 169.40 L470.20 186.60 L396.00 186.40Z" fill="#4294c4" />
<path d="M396.00 171.30 L430.00 170.60 L470.20 170.80 L470.20 186.80 L396.00 186.20Z" fill="#faa2a0" />
<path d="M470.20 169.40 L503.00 169.00 L503.00 186.60 L470.20 186.60Z" fill="#4294c4" />
<path d="M503.00 166.50 L529.90 166.50 L529.90 189.10 L503.00 189.10Z" fill="#4294c4" />
<rect x="316.20" y="137.70" width="220.80" height="80.70" fill="none" stroke="#333333" stroke-width="1.3"/>
<path d="M316.20 218.40v2.0M342.96 218.40v2.0M369.73 218.40v2.0M396.49 218.40v2.0M423.25 218.40v2.0M450.02 218.40v2.0M476.78 218.40v2.0M503.55 218.40v2.0M530.31 218.40v2.0M329.58 218.40v1.2M356.35 218.40v1.2M383.11 218.40v1.2M409.87 218.40v1.2M436.64 218.40v1.2M463.40 218.40v1.2M490.16 218.40v1.2M516.93 218.40v1.2M316.20 137.70h-2.0M316.20 178.05h-2.0M316.20 218.40h-2.0M316.20 157.88h-1.2M316.20 198.22h-1.2" stroke="#333333" stroke-width="1.1700000000000002" fill="none"/>
<text x="316.20" y="228.50" font-size="8.6" text-anchor="middle" font-weight="bold" >0</text>
<text x="342.96" y="228.50" font-size="8.6" text-anchor="middle" font-weight="bold" >20</text>
<text x="369.73" y="228.50" font-size="8.6" text-anchor="middle" font-weight="bold" >40</text>
<text x="396.49" y="228.50" font-size="8.6" text-anchor="middle" font-weight="bold" >60</text>
<text x="423.25" y="228.50" font-size="8.6" text-anchor="middle" font-weight="bold" >80</text>
<text x="450.02" y="228.50" font-size="8.6" text-anchor="middle" font-weight="bold" >100</text>
<text x="476.78" y="228.50" font-size="8.6" text-anchor="middle" font-weight="bold" >120</text>
<text x="503.55" y="228.50" font-size="8.6" text-anchor="middle" font-weight="bold" >140</text>
<text x="530.31" y="228.50" font-size="8.6" text-anchor="middle" font-weight="bold" >160</text>
<text x="313.50" y="140.70" font-size="8.6" text-anchor="end" font-weight="bold" >0.2</text>
<text x="313.50" y="181.05" font-size="8.6" text-anchor="end" font-weight="bold" >0.0</text>
<text x="313.50" y="221.40" font-size="8.6" text-anchor="end" font-weight="bold" >-0.2</text>
<text transform="translate(291.60,175.60) rotate(-90)" font-size="9.1" text-anchor="middle" font-weight="bold">Voltage (V)</text>
<text x="426.50" y="240.50" font-size="8.9" text-anchor="middle" font-weight="bold" >Time (h)</text>
<text x="533.30" y="148.80" font-size="9.1" text-anchor="end" font-weight="bold" >Unit：mA cm<tspan font-size="5.3" dy="-3.7">-2</tspan><tspan dy="3.7"></tspan></text>
<text x="333.00" y="163.60" font-size="8.6" text-anchor="middle" font-weight="bold" >0.2</text>
<text x="356.00" y="163.60" font-size="8.6" text-anchor="middle" font-weight="bold" >0.5</text>
<text x="382.60" y="163.60" font-size="8.6" text-anchor="middle" font-weight="bold" >1</text>
<text x="409.00" y="163.60" font-size="8.6" text-anchor="middle" font-weight="bold" >1.5</text>
<text x="435.60" y="163.60" font-size="8.6" text-anchor="middle" font-weight="bold" >2</text>
<text x="462.80" y="163.60" font-size="8.6" text-anchor="middle" font-weight="bold" >2.5</text>
<text x="488.80" y="163.60" font-size="8.6" text-anchor="middle" font-weight="bold" >3</text>
<text x="516.50" y="163.60" font-size="8.6" text-anchor="middle" font-weight="bold" >5</text>
<path d="M318.40 212.60h20" stroke="#faa2a0" stroke-width="1.4"/>
<text x="341.40" y="215.70" font-size="9.05" text-anchor="start" font-weight="bold" >Pristine</text>
<path d="M395.00 212.40h20" stroke="#4294c4" stroke-width="1.4"/>
<text x="418.00" y="215.50" font-size="9.05" text-anchor="start" font-weight="bold" >Additive</text>
<text x="2.30" y="252.80" font-size="14.2" text-anchor="start" font-weight="bold" >(e)</text>
<path d="M46.20 290.11 L47.20 291.66 L48.20 292.88 L49.20 293.83 L50.20 294.59 L51.20 295.18 L52.20 295.66 L53.20 296.04 L54.20 296.34 L55.20 296.59 L56.20 296.79 L57.20 296.96 L58.20 297.10 L59.20 297.22 L60.20 297.32 L61.20 297.40 L62.20 297.48 L63.20 297.54 L64.20 297.60 L65.20 297.65 L66.20 297.70 L67.20 297.74 L68.20 297.78 L69.20 297.81 L70.20 297.84 L71.20 297.87 L72.20 297.89 L73.20 297.92 L74.20 297.94 L75.20 297.96 L76.20 297.98 L77.20 298.00 L78.20 298.01 L79.20 298.03 L80.20 298.04 L81.20 298.06 L82.20 298.07 L83.20 298.08 L84.20 298.09 L85.20 298.10 L86.20 298.11 L87.20 298.12 L88.20 298.13 L89.20 298.14 L90.20 298.14 L91.20 298.15 L92.20 298.16 L93.20 298.16 L94.20 298.17 L95.20 298.17 L96.20 298.18 L97.20 298.18 L98.20 298.19 L99.20 298.19 L100.20 298.20 L101.20 298.20 L102.20 298.20 L103.20 298.21 L104.20 298.21 L105.20 298.21 L106.20 298.21 L107.20 298.22 L108.20 298.22 L109.20 298.22 L110.20 298.22 L111.20 298.22 L112.20 298.23 L113.20 298.23 L114.20 298.23 L115.20 298.23 L116.20 298.23 L117.20 298.23 L117.90 298.23 L118.10 299.25 L118.20 299.25 L119.20 299.25 L120.20 299.25 L121.20 299.25 L122.20 299.25 L123.20 299.25 L124.20 299.25 L125.20 299.25 L126.20 299.25 L127.20 299.25 L128.20 299.25 L129.20 299.25 L130.20 299.25 L131.20 299.25 L132.20 299.25 L133.20 299.25 L134.20 299.25 L135.20 299.25 L136.20 299.25 L137.20 299.25 L138.20 299.25 L139.20 299.25 L140.20 299.25 L141.20 299.25 L142.20 299.25 L143.20 299.25 L144.20 299.25 L145.20 299.25 L146.20 299.25 L147.20 299.25 L148.20 299.25 L149.20 299.25 L150.20 299.25 L151.20 299.25 L152.20 299.25 L153.20 299.25 L154.20 299.25 L155.20 299.25 L156.20 299.25 L157.20 299.25 L158.20 299.25 L159.20 299.25 L160.20 299.25 L161.20 299.25 L162.20 299.25 L163.20 299.25 L164.20 299.25 L165.20 299.25 L166.20 299.25 L167.20 299.25 L168.20 299.25 L169.20 299.25 L170.20 299.25 L171.20 299.25 L172.20 299.25 L173.20 299.25 L174.20 299.25 L175.20 299.25 L176.20 299.25 L177.20 299.25 L178.20 299.25 L179.20 299.25 L180.20 299.25 L181.20 299.25 L182.20 299.25 L183.20 299.25 L184.20 299.25 L185.20 299.25 L186.20 299.25 L187.20 299.25 L188.20 299.25 L189.20 299.25 L190.20 299.25 L191.20 299.25 L192.20 299.25 L193.20 299.25 L194.20 299.25 L195.20 299.25 L196.20 299.25 L197.20 299.25 L198.20 299.25 L199.20 299.25 L200.20 299.25 L201.20 299.25 L202.20 299.25 L203.20 299.25 L204.20 299.25 L205.20 299.25 L206.20 299.25 L207.20 299.25 L208.20 299.25 L209.20 299.25 L210.20 299.25 L211.20 299.25 L212.20 299.25 L213.20 299.25 L214.20 299.25 L215.20 299.25 L216.20 299.25 L217.20 299.25 L218.20 299.25 L219.20 299.25 L220.20 299.25 L221.20 299.25 L222.20 299.25 L223.20 299.25 L224.20 299.25 L225.20 299.25 L226.20 299.25 L227.20 299.25 L228.20 299.25 L229.20 299.25 L230.20 299.25 L231.20 299.25 L232.20 299.25 L233.20 299.25 L234.20 299.25 L235.20 299.25 L236.20 299.25 L237.20 299.25 L238.20 299.25 L239.20 299.25 L240.20 299.25 L241.20 299.25 L242.20 299.25 L243.20 299.25 L244.20 299.25 L245.20 299.25 L246.20 299.25 L246.60 299.25 L246.60 307.25 L246.20 307.25 L245.20 307.25 L244.20 307.25 L243.20 307.25 L242.20 307.25 L241.20 307.25 L240.20 307.25 L239.20 307.25 L238.20 307.25 L237.20 307.25 L236.20 307.25 L235.20 307.25 L234.20 307.25 L233.20 307.25 L232.20 307.25 L231.20 307.25 L230.20 307.25 L229.20 307.25 L228.20 307.25 L227.20 307.25 L226.20 307.25 L225.20 307.25 L224.20 307.25 L223.20 307.25 L222.20 307.25 L221.20 307.25 L220.20 307.25 L219.20 307.25 L218.20 307.25 L217.20 307.25 L216.20 307.25 L215.20 307.25 L214.20 307.25 L213.20 307.25 L212.20 307.25 L211.20 307.25 L210.20 307.25 L209.20 307.25 L208.20 307.25 L207.20 307.25 L206.20 307.25 L205.20 307.25 L204.20 307.25 L203.20 307.25 L202.20 307.25 L201.20 307.25 L200.20 307.25 L199.20 307.25 L198.20 307.25 L197.20 307.25 L196.20 307.25 L195.20 307.25 L194.20 307.25 L193.20 307.25 L192.20 307.25 L191.20 307.25 L190.20 307.25 L189.20 307.25 L188.20 307.25 L187.20 307.25 L186.20 307.25 L185.20 307.25 L184.20 307.25 L183.20 307.25 L182.20 307.25 L181.20 307.25 L180.20 307.25 L179.20 307.25 L178.20 307.25 L177.20 307.25 L176.20 307.25 L175.20 307.25 L174.20 307.25 L173.20 307.25 L172.20 307.25 L171.20 307.25 L170.20 307.25 L169.20 307.25 L168.20 307.25 L167.20 307.25 L166.20 307.25 L165.20 307.25 L164.20 307.25 L163.20 307.25 L162.20 307.25 L161.20 307.25 L160.20 307.25 L159.20 307.25 L158.20 307.25 L157.20 307.25 L156.20 307.25 L155.20 307.25 L154.20 307.25 L153.20 307.25 L152.20 307.25 L151.20 307.25 L150.20 307.25 L149.20 307.25 L148.20 307.25 L147.20 307.25 L146.20 307.25 L145.20 307.25 L144.20 307.25 L143.20 307.25 L142.20 307.25 L141.20 307.25 L140.20 307.25 L139.20 307.25 L138.20 307.25 L137.20 307.25 L136.20 307.25 L135.20 307.25 L134.20 307.25 L133.20 307.25 L132.20 307.25 L131.20 307.25 L130.20 307.25 L129.20 307.25 L128.20 307.25 L127.20 307.25 L126.20 307.25 L125.20 307.25 L124.20 307.25 L123.20 307.25 L122.20 307.25 L121.20 307.25 L120.20 307.25 L119.20 307.25 L118.20 307.25 L118.10 307.25 L117.90 308.27 L117.20 308.27 L116.20 308.27 L115.20 308.27 L114.20 308.27 L113.20 308.27 L112.20 308.27 L111.20 308.28 L110.20 308.28 L109.20 308.28 L108.20 308.28 L107.20 308.28 L106.20 308.29 L105.20 308.29 L104.20 308.29 L103.20 308.29 L102.20 308.30 L101.20 308.30 L100.20 308.30 L99.20 308.31 L98.20 308.31 L97.20 308.32 L96.20 308.32 L95.20 308.33 L94.20 308.33 L93.20 308.34 L92.20 308.34 L91.20 308.35 L90.20 308.36 L89.20 308.36 L88.20 308.37 L87.20 308.38 L86.20 308.39 L85.20 308.40 L84.20 308.41 L83.20 308.42 L82.20 308.43 L81.20 308.44 L80.20 308.46 L79.20 308.47 L78.20 308.49 L77.20 308.50 L76.20 308.52 L75.20 308.54 L74.20 308.56 L73.20 308.58 L72.20 308.61 L71.20 308.63 L70.20 308.66 L69.20 308.69 L68.20 308.72 L67.20 308.76 L66.20 308.80 L65.20 308.85 L64.20 308.90 L63.20 308.96 L62.20 309.02 L61.20 309.10 L60.20 309.18 L59.20 309.28 L58.20 309.40 L57.20 309.54 L56.20 309.71 L55.20 309.91 L54.20 310.16 L53.20 310.46 L52.20 310.84 L51.20 311.32 L50.20 311.91 L49.20 312.67 L48.20 313.62 L47.20 314.84 L46.20 316.39Z" fill="#4294c4" />
<path d="M46.6 303 V337" stroke="#4294c4" stroke-width="1.4"/>
<path d="M214.3 297.6 V309" stroke="#4294c4" stroke-width="1.0"/>
<path d="M46.5 303.3 H74" stroke="#faa2a0" stroke-width="1.8"/>
<path d="M73.6 300.5 V303.3" stroke="#faa2a0" stroke-width="0.9"/>
<rect x="45.60" y="257.10" width="221.20" height="80.70" fill="none" stroke="#333333" stroke-width="1.3"/>
<path d="M45.60 337.80v2.0M108.80 337.80v2.0M172.00 337.80v2.0M235.20 337.80v2.0M77.20 337.80v1.2M140.40 337.80v1.2M203.60 337.80v1.2M45.60 257.10h-2.0M45.60 280.16h-2.0M45.60 303.21h-2.0M45.60 326.27h-2.0M45.60 268.63h-1.2M45.60 291.69h-1.2M45.60 314.74h-1.2" stroke="#333333" stroke-width="1.1700000000000002" fill="none"/>
<text x="45.60" y="347.90" font-size="8.6" text-anchor="middle" font-weight="bold" >0</text>
<text x="108.80" y="347.90" font-size="8.6" text-anchor="middle" font-weight="bold" >100</text>
<text x="172.00" y="347.90" font-size="8.6" text-anchor="middle" font-weight="bold" >200</text>
<text x="235.20" y="347.90" font-size="8.6" text-anchor="middle" font-weight="bold" >300</text>
<text x="42.90" y="260.10" font-size="8.6" text-anchor="end" font-weight="bold" >2</text>
<text x="42.90" y="283.16" font-size="8.6" text-anchor="end" font-weight="bold" >1</text>
<text x="42.90" y="306.21" font-size="8.6" text-anchor="end" font-weight="bold" >0</text>
<text x="42.90" y="329.27" font-size="8.6" text-anchor="end" font-weight="bold" >-1</text>
<text transform="translate(28.60,295.80) rotate(-90)" font-size="9.1" text-anchor="middle" font-weight="bold">Voltage (V)</text>
<text x="156.30" y="360.40" font-size="8.9" text-anchor="middle" font-weight="bold" >Time (h)</text>
<text x="264.00" y="267.60" font-size="9.1" text-anchor="end" font-weight="bold" >1 mA cm<tspan font-size="5.3" dy="-3.7">-2</tspan><tspan dy="3.7">, 1 mAh cm</tspan><tspan font-size="5.3" dy="-3.7">-2</tspan><tspan dy="3.7"></tspan></text>
<text x="55.20" y="267.80" font-size="8.6" text-anchor="start" font-weight="bold" >-20</text>
<text x="72.0" y="267.8" font-size="7.6" font-weight="normal" style="font-family:'Noto Sans CJK SC',sans-serif;stroke-width:0.1px">℃</text>
<path d="M48.30 332.20h20" stroke="#faa2a0" stroke-width="1.4"/>
<text x="71.30" y="335.30" font-size="9.05" text-anchor="start" font-weight="bold" >Pristine</text>
<path d="M124.50 332.00h20" stroke="#4294c4" stroke-width="1.4"/>
<text x="147.50" y="335.10" font-size="9.05" text-anchor="start" font-weight="bold" >Additive</text>
<path d="M106.90 285.60 L110.90 285.60 L110.90 266.10 L114.80 266.10 L114.80 285.60 L117.68 285.60 L117.68 285.60 L117.68 266.10 L121.58 266.10 L121.58 285.60 L124.46 285.60 L124.46 285.60 L124.46 266.10 L128.36 266.10 L128.36 285.60 L131.24 285.60 L131.24 285.60 L131.24 266.10 L135.14 266.10 L135.14 285.60 L138.02 285.60 L138.02 285.60 L138.02 266.10 L141.92 266.10 L141.92 285.60 L144.80 285.60 L144.80 285.60 L144.80 266.10 L148.70 266.10 L148.70 285.60 L151.58 285.60 L151.58 285.60 L151.58 266.10 L153.00 266.10" fill="none" stroke="#4294c4" stroke-width="1.0" stroke-linejoin="miter" />
<path d="M106.9 275.35 H151" stroke="#faa2a0" stroke-width="1.3"/>
<rect x="106.60" y="263.50" width="46.70" height="23.70" fill="none" stroke="#333333" stroke-width="1.1"/>
<path d="M113.80 287.20v1.3M145.40 287.20v1.3M129.60 287.20v0.78M106.60 263.50h-1.3M106.60 275.35h-1.3M106.60 287.20h-1.3" stroke="#333333" stroke-width="0.9900000000000001" fill="none"/>
<text x="113.80" y="295.80" font-size="6.5" text-anchor="middle" font-weight="bold" >20</text>
<text x="145.40" y="295.80" font-size="6.5" text-anchor="middle" font-weight="bold" >30</text>
<text x="104.60" y="266.10" font-size="6.5" text-anchor="end" font-weight="bold" >0.3</text>
<text x="104.60" y="277.95" font-size="6.5" text-anchor="end" font-weight="bold" >0.0</text>
<text x="104.60" y="289.80" font-size="6.5" text-anchor="end" font-weight="bold" >-0.3</text>
<text x="276.20" y="252.80" font-size="14.2" text-anchor="start" font-weight="bold" >(f)</text>
<rect x="317.00" y="290.60" width="43.50" height="11.80" fill="#dfe6df"/>
<path d="M318.20 302.60 L320.00 290.40 L321.75 302.60 L323.55 290.40 L325.30 302.60 L327.10 290.40 L328.85 302.60 L330.65 290.40 L332.40 302.60 L334.20 290.40 L335.95 302.60 L337.75 290.40 L339.50 302.60 L341.30 290.40 L343.05 302.60 L344.85 290.40 L346.60 302.60 L348.40 290.40 L350.15 302.60 L351.95 290.40 L353.70 302.60 L355.50 290.40 L357.25 302.60 L359.05 290.40 L360.80 302.60 L360.50 290.40" fill="none" stroke="#b0b0b0" stroke-width="0.9" stroke-opacity="0.8"/>
<path d="M317.00 303.40 L319.30 289.60 L320.55 303.40 L322.85 289.60 L324.10 303.40 L326.40 289.60 L327.65 303.40 L329.95 289.60 L331.20 303.40 L333.50 289.60 L334.75 303.40 L337.05 289.60 L338.30 303.40 L340.60 289.60 L341.85 303.40 L344.15 289.60 L345.40 303.40 L347.70 289.60 L348.95 303.40 L351.25 289.60 L352.50 303.40 L354.80 289.60 L356.05 303.40 L358.35 289.60 L359.60 303.40 L360.50 289.60 L360.50 303.40" fill="none" stroke="#6fd06f" stroke-width="1.0" stroke-opacity="0.85" stroke-linejoin="round"/>
<rect x="360.50" y="290.30" width="44.20" height="11.70" fill="#e9dddd"/>
<path d="M361.70 302.20 L363.50 290.10 L365.25 302.20 L367.05 290.10 L368.80 302.20 L370.60 290.10 L372.35 302.20 L374.15 290.10 L375.90 302.20 L377.70 290.10 L379.45 302.20 L381.25 290.10 L383.00 302.20 L384.80 290.10 L386.55 302.20 L388.35 290.10 L390.10 302.20 L391.90 290.10 L393.65 302.20 L395.45 290.10 L397.20 302.20 L399.00 290.10 L400.75 302.20 L402.55 290.10 L404.30 302.20 L404.70 290.10" fill="none" stroke="#b0b0b0" stroke-width="0.9" stroke-opacity="0.8"/>
<path d="M360.50 303.00 L362.80 289.30 L364.05 303.00 L366.35 289.30 L367.60 303.00 L369.90 289.30 L371.15 303.00 L373.45 289.30 L374.70 303.00 L377.00 289.30 L378.25 303.00 L380.55 289.30 L381.80 303.00 L384.10 289.30 L385.35 303.00 L387.65 289.30 L388.90 303.00 L391.20 289.30 L392.45 303.00 L394.75 289.30 L396.00 303.00 L398.30 289.30 L399.55 303.00 L401.85 289.30 L403.10 303.00 L404.70 289.30 L404.70 303.00" fill="none" stroke="#f59090" stroke-width="1.0" stroke-opacity="0.85" stroke-linejoin="round"/>
<rect x="404.70" y="290.30" width="42.50" height="11.70" fill="#d6e0e8"/>
<path d="M405.90 302.20 L407.70 290.10 L409.45 302.20 L411.25 290.10 L413.00 302.20 L414.80 290.10 L416.55 302.20 L418.35 290.10 L420.10 302.20 L421.90 290.10 L423.65 302.20 L425.45 290.10 L427.20 302.20 L429.00 290.10 L430.75 302.20 L432.55 290.10 L434.30 302.20 L436.10 290.10 L437.85 302.20 L439.65 290.10 L441.40 302.20 L443.20 290.10 L444.95 302.20 L446.75 290.10" fill="none" stroke="#b0b0b0" stroke-width="0.9" stroke-opacity="0.8"/>
<path d="M404.70 303.00 L407.00 289.30 L408.25 303.00 L410.55 289.30 L411.80 303.00 L414.10 289.30 L415.35 303.00 L417.65 289.30 L418.90 303.00 L421.20 289.30 L422.45 303.00 L424.75 289.30 L426.00 303.00 L428.30 289.30 L429.55 303.00 L431.85 289.30 L433.10 303.00 L435.40 289.30 L436.65 303.00 L438.95 289.30 L440.20 303.00 L442.50 289.30 L443.75 303.00 L446.05 289.30 L447.20 303.00" fill="none" stroke="#3d9fe0" stroke-width="1.0" stroke-opacity="0.85" stroke-linejoin="round"/>
<path d="M446 303 V328" stroke="#aaaaaa" stroke-width="1.0"/>
<path d="M448.60 300.20 L450.90 291.80 L452.15 300.20 L454.45 291.80 L455.70 300.20 L458.00 291.80 L459.25 300.20 L461.55 291.80 L462.80 300.20 L465.10 291.80 L466.35 300.20 L468.65 291.80 L469.90 300.20 L472.20 291.80 L473.45 300.20 L475.75 291.80 L477.00 300.20 L479.30 291.80 L480.55 300.20 L482.85 291.80 L484.10 300.20 L486.40 291.80 L487.65 300.20 L489.95 291.80 L491.20 300.20 L493.00 291.80 L493.00 300.20" fill="none" stroke="#9b63d6" stroke-width="1.7" stroke-linejoin="round" stroke-linecap="round"/>
<path d="M493.00 300.20 L495.30 291.80 L496.55 300.20 L498.85 291.80 L500.10 300.20 L502.40 291.80 L503.65 300.20 L505.95 291.80 L507.20 300.20 L509.50 291.80 L510.75 300.20 L513.05 291.80 L514.30 300.20 L516.60 291.80 L517.85 300.20 L520.15 291.80 L521.40 300.20 L523.70 291.80 L524.95 300.20 L527.25 291.80 L528.50 300.20 L530.80 291.80 L532.05 300.20 L534.35 291.80 L535.60 300.20" fill="none" stroke="#eb7d41" stroke-width="1.7" stroke-linejoin="round" stroke-linecap="round"/>
<rect x="316.00" y="257.40" width="221.00" height="80.30" fill="none" stroke="#333333" stroke-width="1.3"/>
<path d="M316.00 337.70v2.0M360.20 337.70v2.0M404.40 337.70v2.0M448.60 337.70v2.0M492.80 337.70v2.0M537.00 337.70v2.0M338.10 337.70v1.2M382.30 337.70v1.2M426.50 337.70v1.2M470.70 337.70v1.2M514.90 337.70v1.2M316.00 270.78h-2.0M316.00 297.55h-2.0M316.00 324.32h-2.0" stroke="#333333" stroke-width="1.1700000000000002" fill="none"/>
<text x="316.00" y="347.80" font-size="8.6" text-anchor="middle" font-weight="bold" >0</text>
<text x="360.20" y="347.80" font-size="8.6" text-anchor="middle" font-weight="bold" >24</text>
<text x="404.40" y="347.80" font-size="8.6" text-anchor="middle" font-weight="bold" >48</text>
<text x="448.60" y="347.80" font-size="8.6" text-anchor="middle" font-weight="bold" >72</text>
<text x="492.80" y="347.80" font-size="8.6" text-anchor="middle" font-weight="bold" >96</text>
<text x="537.00" y="347.80" font-size="8.6" text-anchor="middle" font-weight="bold" >120</text>
<text x="313.30" y="273.78" font-size="8.6" text-anchor="end" font-weight="bold" >0.1</text>
<text x="313.30" y="300.55" font-size="8.6" text-anchor="end" font-weight="bold" >0.0</text>
<text x="313.30" y="327.32" font-size="8.6" text-anchor="end" font-weight="bold" >-0.1</text>
<text transform="translate(291.40,295.90) rotate(-90)" font-size="9.1" text-anchor="middle" font-weight="bold">Voltage (V)</text>
<text x="426.50" y="360.40" font-size="8.9" text-anchor="middle" font-weight="bold" >Time (h)</text>
<text x="534.00" y="267.60" font-size="9.1" text-anchor="end" font-weight="bold" >1 mA cm<tspan font-size="5.3" dy="-3.7">-2</tspan><tspan dy="3.7">, 1 mAh cm</tspan><tspan font-size="5.3" dy="-3.7">-2</tspan><tspan dy="3.7"></tspan></text>
<text x="325.60" y="268.80" font-size="8.8" text-anchor="start" font-weight="bold" >unit: </text>
<text x="348.3" y="268.9" font-size="7.6" font-weight="normal" style="font-family:'Noto Sans CJK SC',sans-serif;stroke-width:0.1px">℃</text>
<text x="340.00" y="286.40" font-size="8.6" text-anchor="middle" font-weight="bold" >30</text>
<text x="383.00" y="286.40" font-size="8.6" text-anchor="middle" font-weight="bold" >40</text>
<text x="429.00" y="286.40" font-size="8.6" text-anchor="middle" font-weight="bold" >50</text>
<text x="471.60" y="286.40" font-size="8.6" text-anchor="middle" font-weight="bold" >60</text>
<text x="515.00" y="286.40" font-size="8.6" text-anchor="middle" font-weight="bold" >70</text>
<text x="319.00" y="324.00" font-size="9.2" text-anchor="start" font-weight="bold" >Colored line: Additive</text>
<text x="319.00" y="335.00" font-size="9.2" text-anchor="start" font-weight="bold" >Gray line: Pristine</text>
</svg>
</body></html>
